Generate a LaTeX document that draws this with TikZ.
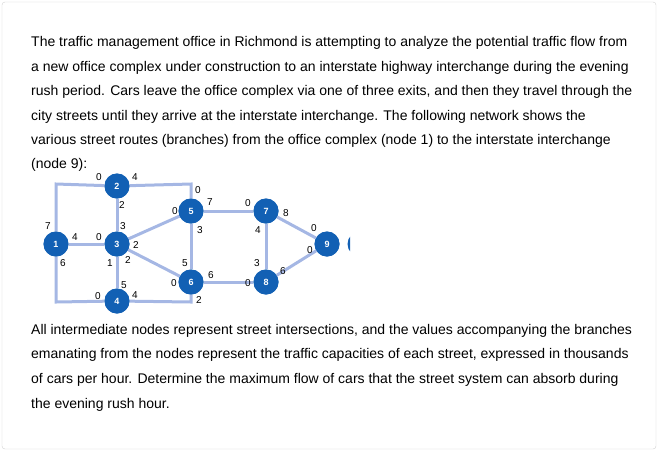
\documentclass[tikz,border=0pt]{standalone}
\usepackage{fontspec}
\setmainfont{Liberation Sans}
\begin{document}
\begin{tikzpicture}[x=1pt,y=-1pt,
  nd/.style={circle,fill={rgb,255:red,18;green,96;blue,180},minimum size=25pt,inner sep=0pt,text=white,font=\fontsize{9}{9}\selectfont\bfseries},
  ed/.style={draw={rgb,255:red,165;green,183;blue,228},line width=3pt},
  lb/.style={font=\fontsize{10}{10}\selectfont,inner sep=0pt},
  tx/.style={anchor=west,inner sep=0pt,font=\fontsize{14}{14}\selectfont}]
\useasboundingbox (0,0) rectangle (658,451);
\draw[gray!35,rounded corners=3pt] (2,2) rectangle (656,449);
\node[tx] at (31,43) {The traffic management office in Richmond is attempting to analyze the potential traffic flow from};
\node[tx] at (31,68) {a new office complex under construction to an interstate highway interchange during the evening};
\node[tx] at (31,92) {rush period. Cars leave the office complex via one of three exits, and then they travel through the};
\node[tx] at (31,117) {city streets until they arrive at the interstate interchange. The following network shows the};
\node[tx] at (31,141) {various street routes (branches) from the office complex (node 1) to the interstate interchange};
\node[tx] at (31,165) {(node 9):};
\node[tx] at (31,331) {All intermediate nodes represent street intersections, and the values accompanying the branches};
\node[tx] at (31,355) {emanating from the nodes represent the traffic capacities of each street, expressed in thousands};
\node[tx] at (31,380) {of cars per hour. Determine the maximum flow of cars that the street system can absorb during};
\node[tx] at (31,405) {the evening rush hour.};
\coordinate (c12) at (56,184);
\coordinate (c25) at (191,184);
\coordinate (c14) at (56,302);
\coordinate (c46) at (191,302);
\node[nd] (n1) at (56,244) {1};
\node[nd] (n2) at (117,186) {2};
\node[nd] (n3) at (117,244) {3};
\node[nd] (n4) at (117,301) {4};
\node[nd] (n5) at (191,211) {5};
\node[nd] (n6) at (191,282) {6};
\node[nd] (n7) at (266,211) {7};
\node[nd] (n8) at (266,282) {8};
\node[nd] (n9) at (327,244) {9};
\draw[ed] (n1) -- (c12) -- (n2);
\draw[ed] (n2) -- (c25) -- (n5);
\draw[ed] (n1) -- (c14) -- (n4);
\draw[ed] (n4) -- (c46) -- (n6);
\draw[ed] (n1) -- (n3);
\draw[ed] (n2) -- (n3);
\draw[ed] (n3) -- (n4);
\draw[ed] (n3) -- (n5);
\draw[ed] (n3) -- (n6);
\draw[ed] (n5) -- (n6);
\draw[ed] (n5) -- (n7);
\draw[ed] (n6) -- (n8);
\draw[ed] (n7) -- (n8);
\draw[ed] (n7) -- (n9);
\draw[ed] (n8) -- (n9);
\foreach \n/\t in {n1/1,n2/2,n3/3,n4/4,n5/5,n6/6,n7/7,n8/8,n9/9}{\node[nd] at (\n) {\t};}
\begin{scope}
\clip (345,230) rectangle (350,258);
\node[nd] (n10) at (360,244) {};
\end{scope}
\foreach \x/\y/\t in {99/177/0,135/177/4,122/205/2,198/190/0,210/202/7,175/211/0,200/230/3,
 123/226/3,48/226/7,75/237/4,99/237/0,136/245/2,128/260/2,63/263/6,110/263/1,
 124/285/5,98/296/0,135/295/4,185/263/5,174/283/0,211/275/6,199/300/2,
 248/203/0,286/213/8,258/230/4,314/228/0,310/250/0,257/263/3,248/283/0,283/271/6}
 {\node[lb] at (\x,\y) {\t};}
\end{tikzpicture}
\end{document}
